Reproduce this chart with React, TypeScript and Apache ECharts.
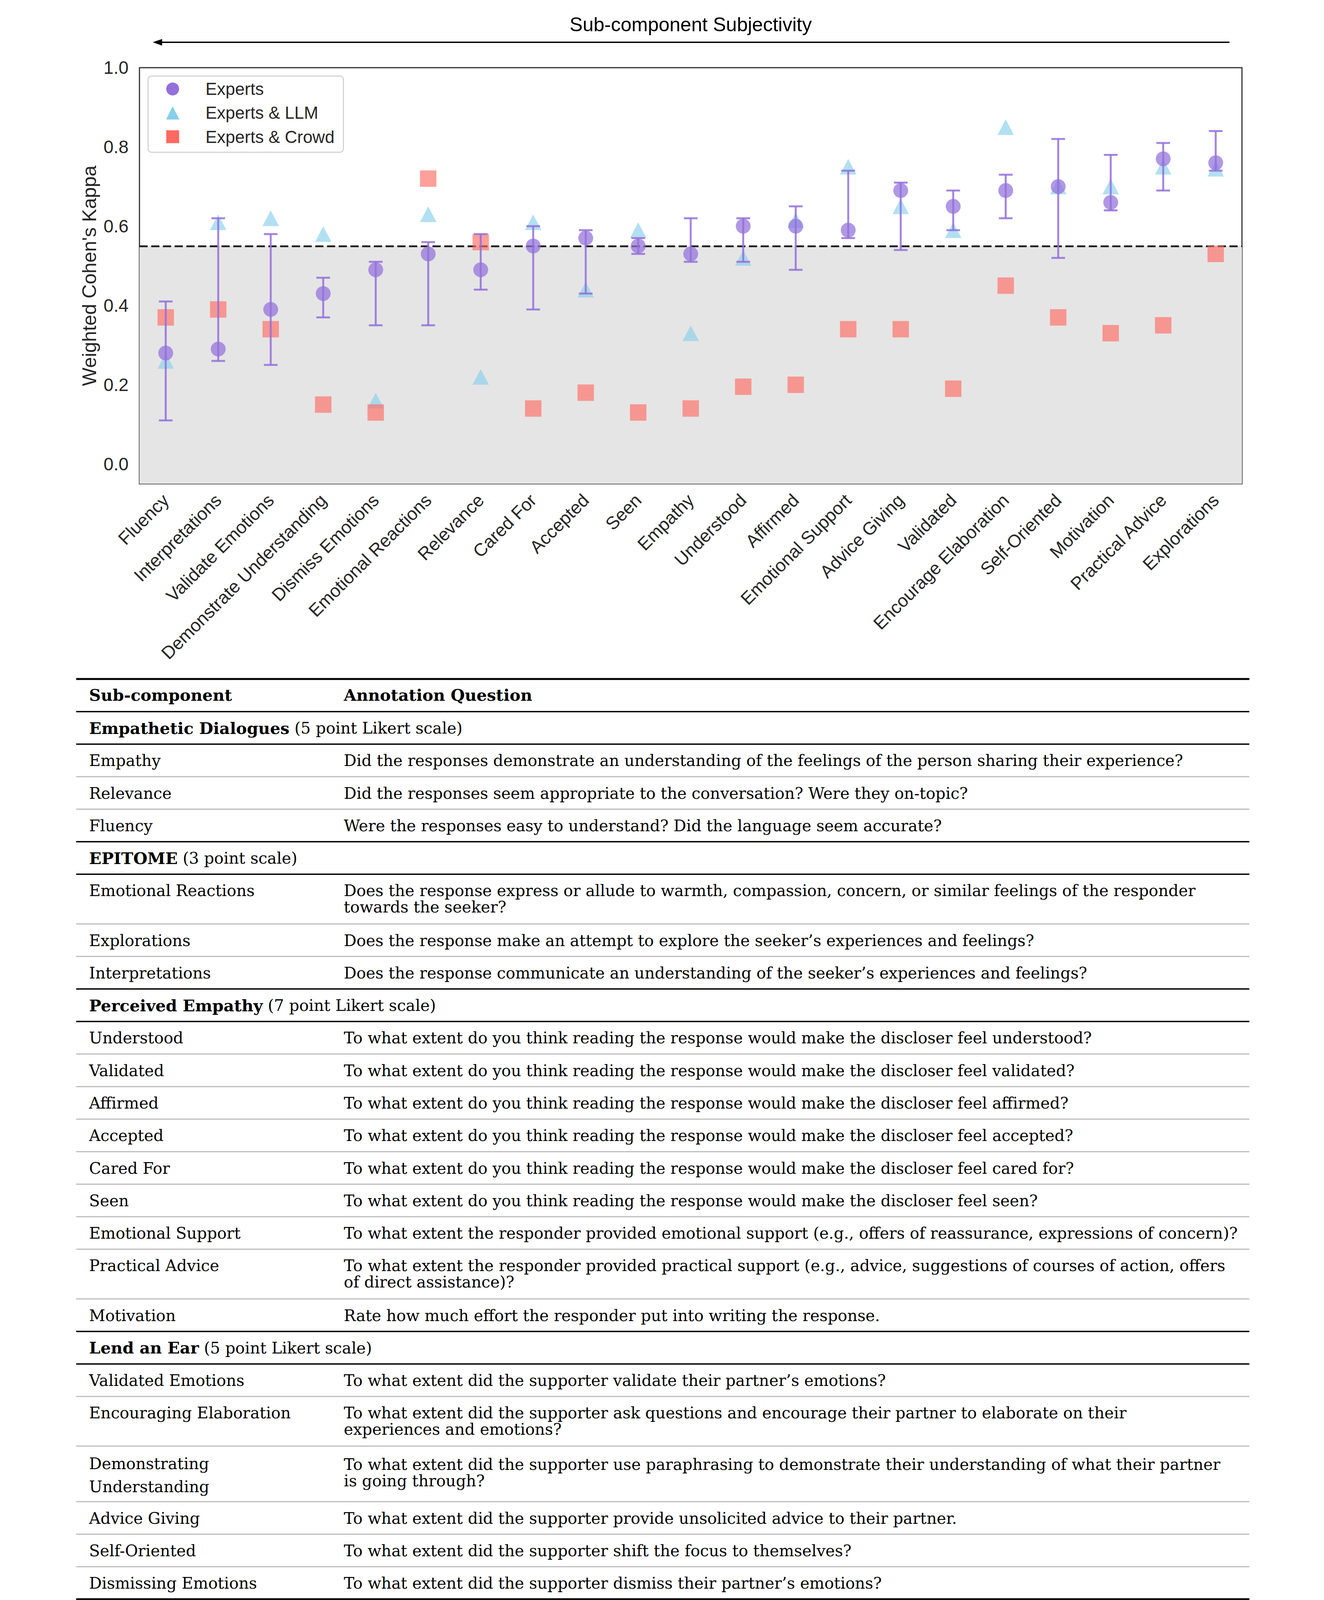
import React, { useEffect, useRef } from "react";
import * as echarts from "echarts";

const categories = [
  "Fluency", "Interpretations", "Validate Emotions", "Demonstrate Understanding", "Dismiss Emotions",
  "Emotional Reactions", "Relevance", "Cared For", "Accepted", "Seen", "Empathy", "Understood",
  "Affirmed", "Emotional Support", "Advice Giving", "Validated", "Encourage Elaboration",
  "Self-Oriented", "Motivation", "Practical Advice", "Explorations",
];
const expertsMean = [0.28, 0.29, 0.39, 0.43, 0.49, 0.53, 0.49, 0.55, 0.57, 0.55, 0.53, 0.60, 0.60, 0.59, 0.69, 0.65, 0.69, 0.70, 0.66, 0.77, 0.76];
const expertsLow = [0.11, 0.26, 0.25, 0.37, 0.35, 0.35, 0.44, 0.39, 0.43, 0.53, 0.51, 0.51, 0.49, 0.57, 0.54, 0.59, 0.62, 0.52, 0.64, 0.69, 0.74];
const expertsHigh = [0.41, 0.62, 0.58, 0.47, 0.51, 0.56, 0.58, 0.60, 0.59, 0.57, 0.62, 0.62, 0.65, 0.74, 0.71, 0.69, 0.73, 0.82, 0.78, 0.81, 0.84];
const expertsLLM = [0.26, 0.61, 0.62, 0.58, 0.16, 0.63, 0.22, 0.61, 0.44, 0.59, 0.33, 0.52, 0.615, 0.75, 0.65, 0.59, 0.85, 0.70, 0.70, 0.75, 0.745];
const expertsCrowd = [0.37, 0.39, 0.34, 0.15, 0.13, 0.72, 0.56, 0.14, 0.18, 0.13, 0.14, 0.195, 0.20, 0.34, 0.34, 0.19, 0.45, 0.37, 0.33, 0.35, 0.53];
const threshold = 0.55;
const yTickLabels = [0.0, 0.2, 0.4, 0.6, 0.8, 1.0];
const legendNames = ["Experts", "Experts & LLM", "Experts & Crowd"];

const sectionTitles = ["Empathetic Dialogues", "EPITOME", "Perceived Empathy", "Lend an Ear"];
const sectionScales = ["(5 point Likert scale)", "(3 point scale)", "(7 point Likert scale)", "(5 point Likert scale)"];
const empatheticDialogues = [
  ["Empathy", "Did the responses demonstrate an understanding of the feelings of the person sharing their experience?"],
  ["Relevance", "Did the responses seem appropriate to the conversation? Were they on-topic?"],
  ["Fluency", "Were the responses easy to understand? Did the language seem accurate?"],
];
const epitome = [
  ["Emotional Reactions", "Does the response express or allude to warmth, compassion, concern, or similar feelings of the responder\ntowards the seeker?"],
  ["Explorations", "Does the response make an attempt to explore the seeker\u2019s experiences and feelings?"],
  ["Interpretations", "Does the response communicate an understanding of the seeker\u2019s experiences and feelings?"],
];
const perceivedEmpathy = [
  ["Understood", "To what extent do you think reading the response would make the discloser feel understood?"],
  ["Validated", "To what extent do you think reading the response would make the discloser feel validated?"],
  ["Affirmed", "To what extent do you think reading the response would make the discloser feel affirmed?"],
  ["Accepted", "To what extent do you think reading the response would make the discloser feel accepted?"],
  ["Cared For", "To what extent do you think reading the response would make the discloser feel cared for?"],
  ["Seen", "To what extent do you think reading the response would make the discloser feel seen?"],
  ["Emotional Support", "To what extent the responder provided emotional support (e.g., offers of reassurance, expressions of concern)?"],
  ["Practical Advice", "To what extent the responder provided practical support (e.g., advice, suggestions of courses of action, offers\nof direct assistance)?"],
  ["Motivation", "Rate how much effort the responder put into writing the response."],
];
const lendAnEar = [
  ["Validated Emotions", "To what extent did the supporter validate their partner\u2019s emotions?"],
  ["Encouraging Elaboration", "To what extent did the supporter ask questions and encourage their partner to elaborate on their\nexperiences and emotions?"],
  ["Demonstrating\nUnderstanding", "To what extent did the supporter use paraphrasing to demonstrate their understanding of what their partner\nis going through?"],
  ["Advice Giving", "To what extent did the supporter provide unsolicited advice to their partner."],
  ["Self-Oriented", "To what extent did the supporter shift the focus to themselves?"],
  ["Dismissing Emotions", "To what extent did the supporter dismiss their partner\u2019s emotions?"],
];
const sectionRows = [empatheticDialogues, epitome, perceivedEmpathy, lendAnEar];

const SANS = "'Liberation Sans', Arial, sans-serif";
const SERIF = "'DejaVu Serif', serif";
const TXT = "#262626";
const REF_W = 3389;
const REF_H = 4352;

function buildTable(ky: number): any[] {
  const Y = (v: number) => v * ky;
  const els: any[] = [];
  const L = 195, R = 3198, X1 = 228, X2 = 880;
  const H1 = 88.5, H2 = 135, H3 = 151;
  const FS = 40.5, FSB = 41.5;
  let y = 1847;
  const rule = (yy: number, w: number, c: string) =>
    els.push({ type: "line", z: 10, shape: { x1: L, y1: Y(yy), x2: R, y2: Y(yy) }, style: { stroke: c, lineWidth: w } });
  const txt = (x: number, yy: number, s: string, bold: boolean, lh = 44) =>
    els.push({
      type: "text", z: 10, x, y: Y(yy),
      style: { text: s, fill: "#000", fontFamily: SERIF, fontSize: bold ? FSB : FS, fontWeight: bold ? "bold" : "normal", lineHeight: lh * ky, align: "left", verticalAlign: "middle" },
    });
  rule(y, 5, "#000");
  txt(X1, y + 44, "Sub-component", true);
  txt(X2, y + 44, "Annotation Question", true);
  y += H1;
  sectionTitles.forEach((title, si) => {
    rule(y, 3.5, "#000");
    els.push({
      type: "text", z: 10, x: X1, y: Y(y + 45),
      style: {
        text: `{b|${title}} {r|${sectionScales[si]}}`, fill: "#000", fontFamily: SERIF, fontSize: FS, lineHeight: 44 * ky,
        align: "left", verticalAlign: "middle",
        rich: {
          b: { fontFamily: SERIF, fontSize: FSB, fontWeight: "bold", fill: "#000", lineHeight: 44 * ky },
          r: { fontFamily: SERIF, fontSize: FS, fill: "#000", lineHeight: 44 * ky },
        },
      },
    });
    y += H1;
    const rows = sectionRows[si];
    rows.forEach((row, ri) => {
      rule(y, ri === 0 ? 3.5 : 3, ri === 0 ? "#000" : "#bdbdbd");
      const nameLines = row[0].split("\n").length;
      const qLines = row[1].split("\n").length;
      const h = nameLines > 1 ? H3 : qLines > 1 ? H2 : H1;
      if (nameLines > 1) {
        txt(X1, y + 48 + 31, row[0], false, 62);
        txt(X2, y + 50 + 22, row[1], false, 44);
      } else if (qLines > 1) {
        txt(X1, y + 45, row[0], false, 44);
        txt(X2, y + 45 + 22, row[1], false, 44);
      } else {
        txt(X1, y + 45, row[0], false, 44);
        txt(X2, y + 45, row[1], false, 44);
      }
      y += h;
    });
  });
  rule(y, 5, "#000");
  return els;
}

function buildOption(ky: number): any {
  const Y = (v: number) => v * ky;
  const errData = categories.map((_, i) => [i, expertsLow[i], expertsHigh[i]]);
  const graphics: any[] = [
    {
      type: "text", x: 1768, y: Y(67), z: 100,
      style: { text: "Sub-component Subjectivity", fill: "#000", fontFamily: SANS, fontSize: 50, align: "center", verticalAlign: "middle" },
    },
    { type: "line", z: 100, shape: { x1: 3147, y1: Y(115), x2: 408, y2: Y(115) }, style: { stroke: "#000", lineWidth: 3.5 } },
    { type: "polygon", z: 100, shape: { points: [[391, Y(115)], [415, Y(115) - 8.5], [415, Y(115) + 8.5]] }, style: { fill: "#000" } },
    {
      type: "rect", z: 100, shape: { x: 379, y: Y(207), width: 500, height: Y(414) - Y(207), r: 8 },
      style: { fill: "rgba(255,255,255,0.8)", stroke: "#cccccc", lineWidth: 2.5 },
    },
    { type: "circle", z: 101, shape: { cx: 442, cy: Y(242), r: 16.5 }, style: { fill: "#9370db" } },
    { type: "polygon", z: 101, shape: { points: [[442, Y(307) - 17], [425, Y(307) + 17], [459, Y(307) + 17]] }, style: { fill: "#87ceeb" } },
    { type: "rect", z: 101, shape: { x: 425.5, y: Y(372) - 16.5, width: 33, height: 33 }, style: { fill: "#ff6961" } },
    ...legendNames.map((n, i) => ({
      type: "text", z: 101, x: 526, y: Y(242 + i * 65),
      style: { text: n, fill: TXT, fontFamily: SANS, fontSize: 44, align: "left", verticalAlign: "middle" },
    })),
    ...buildTable(ky),
  ];

  return {
    animation: false,
    backgroundColor: "#ffffff",
    textStyle: { fontFamily: SANS },
    grid: {
      left: 357, top: Y(184), width: 2822, height: Y(1316) - Y(184), show: true,
      borderColor: "#333333", borderWidth: 3, backgroundColor: "#ffffff", containLabel: false,
    },
    xAxis: {
      type: "category", data: categories, boundaryGap: true,
      axisLine: { show: false }, axisTick: { show: false }, splitLine: { show: false },
      axisLabel: { interval: 0, rotate: 45, fontSize: 46, color: TXT, fontFamily: SANS, margin: 50 * ky - 13 },
    },
    yAxis: {
      type: "value", min: -0.05, max: 1.0, interval: 0.05,
      axisLine: { show: false }, axisTick: { show: false }, splitLine: { show: false },
      axisLabel: {
        fontSize: 46, color: TXT, fontFamily: SANS, margin: 28,
        formatter: (v: number) => {
          const hit = yTickLabels.find((t) => Math.abs(t - v) < 1e-6);
          return hit === undefined ? "" : hit.toFixed(1);
        },
      },
      name: "Weighted Cohen's Kappa", nameLocation: "middle", nameGap: 102, nameRotate: 90,
      nameTextStyle: { fontSize: 50, color: TXT, fontFamily: SANS },
    },
    graphic: graphics,
    series: [
      {
        name: legendNames[1], type: "scatter", z: 2, symbol: "triangle", symbolSize: [42, 40],
        data: expertsLLM.map((v, i) => [i, v]),
        itemStyle: { color: "rgba(135,206,235,0.8)" },
        markArea: {
          silent: true, z: 1,
          itemStyle: { color: "#e5e5e5" },
          data: [[{ yAxis: -0.05 }, { yAxis: threshold }]],
        },
        markLine: {
          silent: true, symbol: "none", z: 1,
          label: { show: false },
          lineStyle: { color: "#1a1a1a", width: 4.5, type: [21, 9] },
          data: [{ yAxis: threshold }],
        },
      },
      {
        name: legendNames[2], type: "scatter", z: 3, symbol: "rect", symbolSize: 42,
        data: expertsCrowd.map((v, i) => [i, v]),
        itemStyle: { color: "rgba(255,105,97,0.8)" },
      },
      {
        name: "err", type: "custom", z: 4,
        data: errData,
        encode: { x: 0, y: [1, 2] },
        renderItem: (params: any, api: any) => {
          const i = api.value(0);
          const lo = api.coord([i, api.value(1)]);
          const hi = api.coord([i, api.value(2)]);
          const half = 17.5;
          const style = { stroke: "rgba(147,112,219,0.85)", lineWidth: 5 };
          return {
            type: "group",
            children: [
              { type: "line", shape: { x1: lo[0], y1: lo[1], x2: hi[0], y2: hi[1] }, style },
              { type: "line", shape: { x1: lo[0] - half, y1: lo[1], x2: lo[0] + half, y2: lo[1] }, style },
              { type: "line", shape: { x1: hi[0] - half, y1: hi[1], x2: hi[0] + half, y2: hi[1] }, style },
            ],
          };
        },
      },
      {
        name: legendNames[0], type: "scatter", z: 5, symbol: "circle", symbolSize: 38,
        data: expertsMean.map((v, i) => [i, v]),
        itemStyle: { color: "rgba(147,112,219,0.9)" },
      },
    ],
  };
}

export default function App() {
  const ref = useRef<HTMLDivElement>(null);
  const avail = typeof window !== "undefined" && window.innerHeight > 0 ? window.innerHeight : REF_H;
  const H = Math.min(REF_H, avail);
  useEffect(() => {
    if (!ref.current) return;
    const ky = H / REF_H;
    const chart = echarts.init(ref.current, null, { renderer: "svg", width: REF_W, height: H });
    chart.setOption(buildOption(ky));
    return () => chart.dispose();
  }, []);
  return (
    <div
      ref={ref}
      style={{ position: "absolute", left: 0, top: 0, width: REF_W, height: H, background: "#ffffff", overflow: "hidden" }}
    />
  );
}
